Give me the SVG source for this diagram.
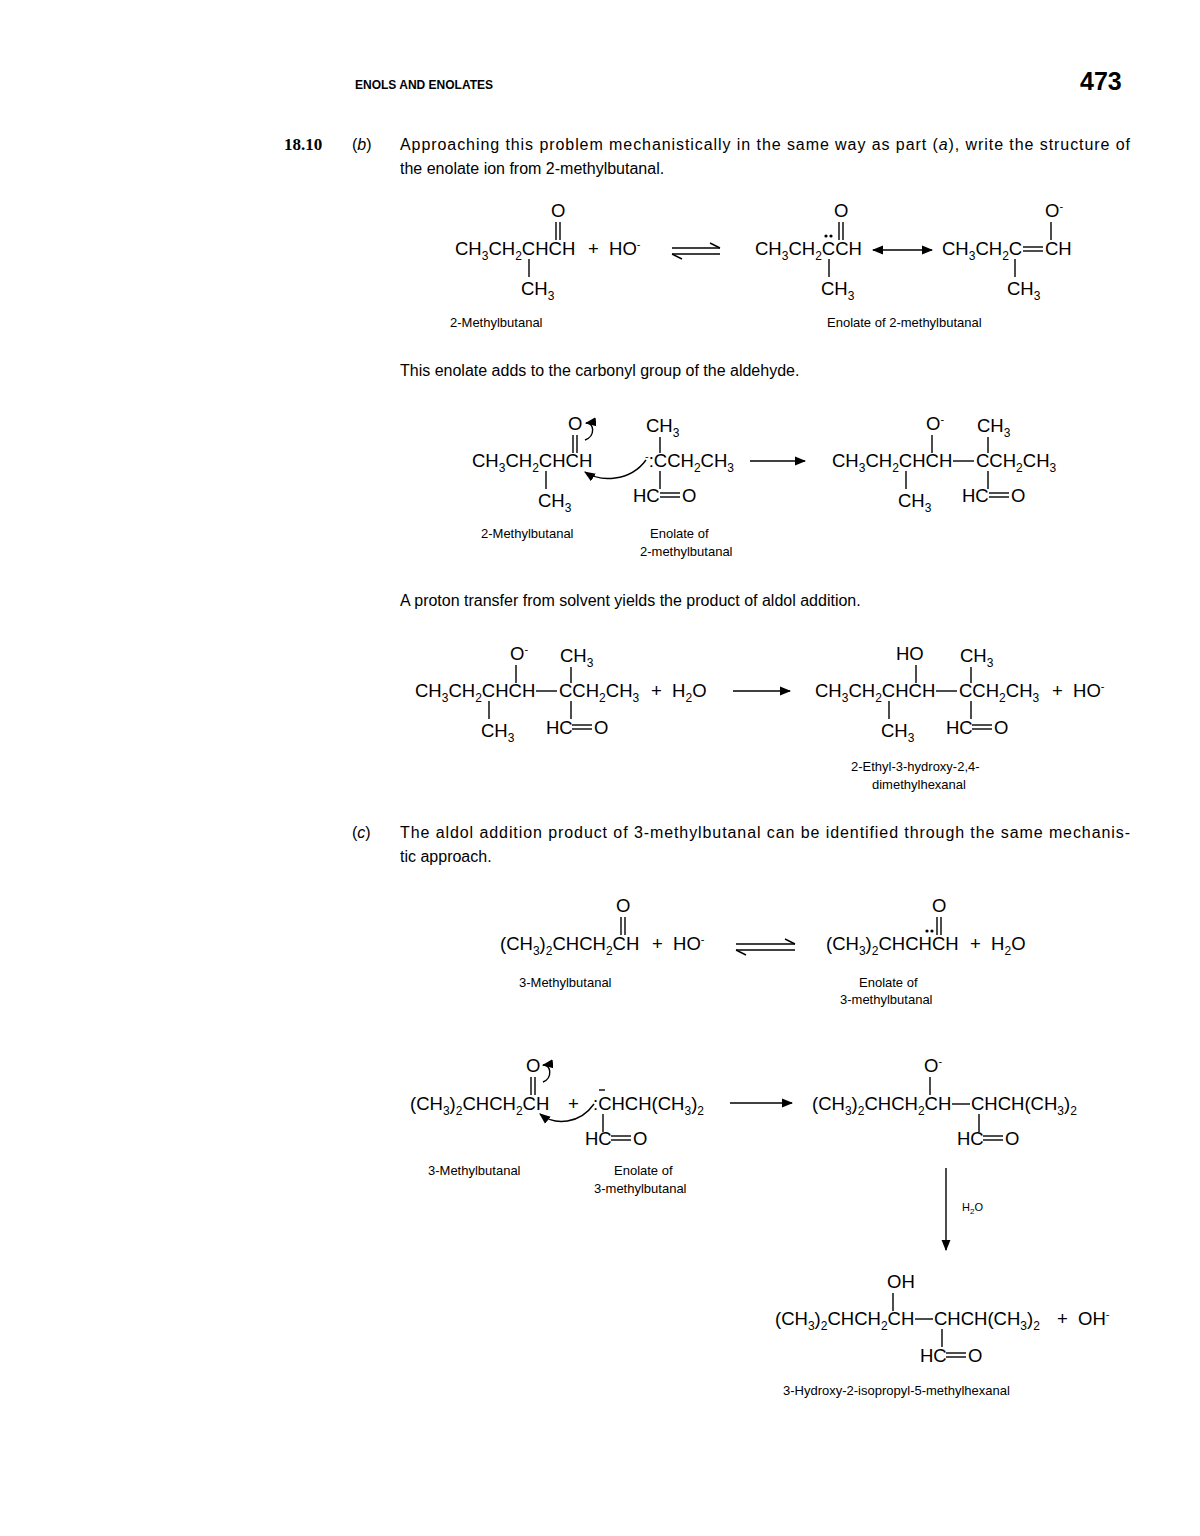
<svg xmlns="http://www.w3.org/2000/svg" width="1200" height="1536" viewBox="0 0 1200 1536">
<style>
text{font-family:"Liberation Sans",Arial,sans-serif;fill:#000}
.m{font-size:18.5px}
.b{font-size:16px}
.l{font-size:13px}
.s{font-size:12px;baseline-shift:-5px}
.p{font-size:11px;baseline-shift:7px}
line,path{stroke:#000;stroke-width:1.4;fill:none}
.hd{fill:#000;stroke:none}
</style>
<defs>
<marker id="ah" viewBox="0 0 10 10" refX="9" refY="5" markerWidth="8" markerHeight="8" orient="auto"><path class="hd" d="M0,1 L10,5 L0,9 Z"/></marker>
<marker id="ahs" viewBox="0 0 10 10" refX="1" refY="5" markerWidth="8" markerHeight="8" orient="auto"><path class="hd" d="M10,1 L0,5 L10,9 Z"/></marker>
</defs>
<rect width="1200" height="1536" fill="#fff"/>
<g id="header">
<text x="355" y="89" style="font-size:12px;font-weight:bold">ENOLS AND ENOLATES</text>
<text x="1080" y="90" style="font-size:25px;font-weight:bold">473</text>
<text x="284" y="150" style="font-family:'Liberation Serif',serif;font-size:17px;font-weight:bold">18.10</text>
<text x="352" y="150" class="b">(<tspan font-style="italic">b</tspan>)</text>
<text x="400" y="150" class="b" textLength="730" lengthAdjust="spacing">Approaching this problem mechanistically in the same way as part (<tspan font-style="italic">a</tspan>), write the structure of</text>
<text x="400" y="174" class="b">the enolate ion from 2-methylbutanal.</text>
<text x="400" y="376" class="b">This enolate adds to the carbonyl group of the aldehyde.</text>
<text x="400" y="606" class="b">A proton transfer from solvent yields the product of aldol addition.</text>
<text x="352" y="838" class="b">(<tspan font-style="italic">c</tspan>)</text>
<text x="400" y="838" class="b" textLength="730" lengthAdjust="spacing">The aldol addition product of 3-methylbutanal can be identified through the same mechanis-</text>
<text x="400" y="862" class="b">tic approach.</text>
</g>

<g id="sec1">
<text x="455" y="255" class="m">CH<tspan class="s">3</tspan>CH<tspan class="s">2</tspan>CHCH</text>
<text x="551" y="217" class="m">O</text>
<line x1="556" y1="222" x2="556" y2="240"/><line x1="560" y1="222" x2="560" y2="240"/>
<line x1="529" y1="259" x2="529" y2="277"/>
<text x="521" y="295" class="m">CH<tspan class="s">3</tspan></text>
<text x="588" y="255" class="m">+&#160;&#160;HO<tspan class="p">-</tspan></text>
<text x="755" y="255" class="m">CH<tspan class="s">3</tspan>CH<tspan class="s">2</tspan>CCH</text>
<circle cx="826" cy="236" r="1.6"/><circle cx="831" cy="236" r="1.6"/>
<text x="834" y="217" class="m">O</text>
<line x1="839" y1="222" x2="839" y2="240"/><line x1="843" y1="222" x2="843" y2="240"/>
<line x1="829" y1="259" x2="829" y2="277"/>
<text x="821" y="295" class="m">CH<tspan class="s">3</tspan></text>
<text x="942" y="255" class="m">CH<tspan class="s">3</tspan>CH<tspan class="s">2</tspan>C</text>
<line x1="1023" y1="247" x2="1043" y2="247"/><line x1="1023" y1="251" x2="1043" y2="251"/>
<text x="1045" y="255" class="m">CH</text>
<text x="1045" y="217" class="m">O<tspan class="p">-</tspan></text>
<line x1="1051" y1="222" x2="1051" y2="240"/>
<line x1="1015" y1="259" x2="1015" y2="277"/>
<text x="1007" y="295" class="m">CH<tspan class="s">3</tspan></text>
<text x="450" y="327" class="l">2-Methylbutanal</text>
<text x="827" y="327" class="l">Enolate of 2-methylbutanal</text>
</g>

<g id="sec2">
<text x="472" y="467" class="m">CH<tspan class="s">3</tspan>CH<tspan class="s">2</tspan>CHCH</text>
<text x="568" y="430" class="m">O</text>
<line x1="573" y1="435" x2="573" y2="453"/><line x1="577" y1="435" x2="577" y2="453"/>
<line x1="546" y1="471" x2="546" y2="489"/>
<text x="538" y="507" class="m">CH<tspan class="s">3</tspan></text>
<text x="645" y="467" class="m"><tspan class="p">-</tspan>:CCH<tspan class="s">2</tspan>CH<tspan class="s">3</tspan></text>
<text x="646" y="432" class="m">CH<tspan class="s">3</tspan></text>
<line x1="660" y1="437" x2="660" y2="453"/>
<line x1="660" y1="471" x2="660" y2="489"/>
<text x="633" y="502" class="m">HC</text>
<line x1="660" y1="493" x2="680" y2="493"/><line x1="660" y1="497" x2="680" y2="497"/>
<text x="682" y="502" class="m">O</text>
<path d="M585,440 C596,436 594,422 586,423" marker-end="url(#ah)"/>
<path d="M646,460 C630,482 600,482 585,472" marker-end="url(#ah)"/>
<line x1="750" y1="461" x2="805" y2="461" marker-end="url(#ah)"/>
<text x="832" y="467" class="m">CH<tspan class="s">3</tspan>CH<tspan class="s">2</tspan>CHCH</text>
<line x1="953" y1="461" x2="974" y2="461"/>
<text x="976" y="467" class="m">CCH<tspan class="s">2</tspan>CH<tspan class="s">3</tspan></text>
<text x="926" y="430" class="m">O<tspan class="p">-</tspan></text>
<line x1="932" y1="435" x2="932" y2="453"/>
<text x="977" y="432" class="m">CH<tspan class="s">3</tspan></text>
<line x1="988" y1="437" x2="988" y2="453"/>
<line x1="906" y1="471" x2="906" y2="489"/>
<text x="898" y="507" class="m">CH<tspan class="s">3</tspan></text>
<line x1="988" y1="471" x2="988" y2="489"/>
<text x="962" y="502" class="m">HC</text>
<line x1="989" y1="493" x2="1009" y2="493"/><line x1="989" y1="497" x2="1009" y2="497"/>
<text x="1011" y="502" class="m">O</text>
<text x="481" y="538" class="l">2-Methylbutanal</text>
<text x="650" y="538" class="l">Enolate of</text>
<text x="640" y="556" class="l">2-methylbutanal</text>
</g>

<g id="sec3">
<text x="415" y="697" class="m">CH<tspan class="s">3</tspan>CH<tspan class="s">2</tspan>CHCH</text>
<line x1="536" y1="691" x2="557" y2="691"/>
<text x="559" y="697" class="m">CCH<tspan class="s">2</tspan>CH<tspan class="s">3</tspan></text>
<text x="510" y="660" class="m">O<tspan class="p">-</tspan></text>
<line x1="516" y1="665" x2="516" y2="683"/>
<text x="560" y="662" class="m">CH<tspan class="s">3</tspan></text>
<line x1="571" y1="667" x2="571" y2="683"/>
<line x1="489" y1="701" x2="489" y2="719"/>
<text x="481" y="737" class="m">CH<tspan class="s">3</tspan></text>
<line x1="571" y1="701" x2="571" y2="719"/>
<text x="546" y="734" class="m">HC</text>
<line x1="572" y1="725" x2="592" y2="725"/><line x1="572" y1="729" x2="592" y2="729"/>
<text x="594" y="734" class="m">O</text>
<text x="651" y="697" class="m">+&#160;&#160;H<tspan class="s">2</tspan>O</text>
<line x1="733" y1="691" x2="790" y2="691" marker-end="url(#ah)"/>
<text x="815" y="697" class="m">CH<tspan class="s">3</tspan>CH<tspan class="s">2</tspan>CHCH</text>
<line x1="936" y1="691" x2="957" y2="691"/>
<text x="959" y="697" class="m">CCH<tspan class="s">2</tspan>CH<tspan class="s">3</tspan></text>
<text x="896" y="660" class="m">HO</text>
<line x1="916" y1="665" x2="916" y2="683"/>
<text x="960" y="662" class="m">CH<tspan class="s">3</tspan></text>
<line x1="971" y1="667" x2="971" y2="683"/>
<line x1="889" y1="701" x2="889" y2="719"/>
<text x="881" y="737" class="m">CH<tspan class="s">3</tspan></text>
<line x1="971" y1="701" x2="971" y2="719"/>
<text x="946" y="734" class="m">HC</text>
<line x1="972" y1="725" x2="992" y2="725"/><line x1="972" y1="729" x2="992" y2="729"/>
<text x="994" y="734" class="m">O</text>
<text x="1052" y="697" class="m">+&#160;&#160;HO<tspan class="p">-</tspan></text>
<text x="851" y="771" class="l">2-Ethyl-3-hydroxy-2,4-</text>
<text x="872" y="789" class="l">dimethylhexanal</text>
</g>

<g id="sec4">
<text x="500" y="950" class="m">(CH<tspan class="s">3</tspan>)<tspan class="s">2</tspan>CHCH<tspan class="s">2</tspan>CH</text>
<text x="616" y="912" class="m">O</text>
<line x1="621" y1="917" x2="621" y2="935"/><line x1="625" y1="917" x2="625" y2="935"/>
<text x="652" y="950" class="m">+&#160;&#160;HO<tspan class="p">-</tspan></text>
<text x="826" y="950" class="m">(CH<tspan class="s">3</tspan>)<tspan class="s">2</tspan>CHCHCH</text>
<circle cx="927" cy="931" r="1.6"/><circle cx="932" cy="931" r="1.6"/>
<text x="932" y="912" class="m">O</text>
<line x1="937" y1="917" x2="937" y2="935"/><line x1="941" y1="917" x2="941" y2="935"/>
<text x="970" y="950" class="m">+&#160;&#160;H<tspan class="s">2</tspan>O</text>
<text x="519" y="987" class="l">3-Methylbutanal</text>
<text x="859" y="987" class="l">Enolate of</text>
<text x="840" y="1004" class="l">3-methylbutanal</text>
</g>

<g id="sec5">
<text x="410" y="1110" class="m">(CH<tspan class="s">3</tspan>)<tspan class="s">2</tspan>CHCH<tspan class="s">2</tspan>CH</text>
<text x="526" y="1072" class="m">O</text>
<line x1="531" y1="1077" x2="531" y2="1095"/><line x1="535" y1="1077" x2="535" y2="1095"/>
<path d="M543,1082 C553,1078 551,1064 543,1065" marker-end="url(#ah)"/>
<text x="568" y="1110" class="m">+</text>
<text x="593" y="1110" class="m">:CHCH(CH<tspan class="s">3</tspan>)<tspan class="s">2</tspan></text>
<line x1="599" y1="1090" x2="605" y2="1090"/>
<line x1="603" y1="1114" x2="603" y2="1132"/>
<text x="585" y="1145" class="m">HC</text>
<line x1="611" y1="1136" x2="631" y2="1136"/><line x1="611" y1="1140" x2="631" y2="1140"/>
<text x="633" y="1145" class="m">O</text>
<path d="M594,1104 C580,1124 555,1126 540,1114" marker-end="url(#ah)"/>
<line x1="730" y1="1103" x2="792" y2="1103" marker-end="url(#ah)"/>
<text x="812" y="1110" class="m">(CH<tspan class="s">3</tspan>)<tspan class="s">2</tspan>CHCH<tspan class="s">2</tspan>CH</text>
<line x1="952" y1="1104" x2="970" y2="1104"/>
<text x="971" y="1110" class="m">CHCH(CH<tspan class="s">3</tspan>)<tspan class="s">2</tspan></text>
<text x="924" y="1072" class="m">O<tspan class="p">-</tspan></text>
<line x1="930" y1="1077" x2="930" y2="1095"/>
<line x1="979" y1="1114" x2="979" y2="1132"/>
<text x="957" y="1145" class="m">HC</text>
<line x1="983" y1="1136" x2="1003" y2="1136"/><line x1="983" y1="1140" x2="1003" y2="1140"/>
<text x="1005" y="1145" class="m">O</text>
<text x="428" y="1175" class="l">3-Methylbutanal</text>
<text x="614" y="1175" class="l">Enolate of</text>
<text x="594" y="1193" class="l">3-methylbutanal</text>
<line x1="946" y1="1168" x2="946" y2="1250" marker-end="url(#ah)"/>
<text x="962" y="1211" style="font-size:11px">H<tspan style="font-size:8px;baseline-shift:-3px">2</tspan>O</text>
</g>

<g id="sec6">
<text x="775" y="1325" class="m">(CH<tspan class="s">3</tspan>)<tspan class="s">2</tspan>CHCH<tspan class="s">2</tspan>CH</text>
<line x1="915" y1="1319" x2="933" y2="1319"/>
<text x="934" y="1325" class="m">CHCH(CH<tspan class="s">3</tspan>)<tspan class="s">2</tspan></text>
<text x="887" y="1288" class="m">OH</text>
<line x1="893" y1="1293" x2="893" y2="1311"/>
<line x1="942" y1="1329" x2="942" y2="1347"/>
<text x="920" y="1362" class="m">HC</text>
<line x1="946" y1="1353" x2="966" y2="1353"/><line x1="946" y1="1357" x2="966" y2="1357"/>
<text x="968" y="1362" class="m">O</text>
<text x="1057" y="1325" class="m">+&#160;&#160;OH<tspan class="p">-</tspan></text>
<text x="783" y="1395" class="l">3-Hydroxy-2-isopropyl-5-methylhexanal</text>
</g>

<g id="connectors">
<line x1="672" y1="248" x2="720" y2="248"/><path d="M720,248 L710,243"/>
<line x1="672" y1="254" x2="720" y2="254"/><path d="M672,254 L682,259"/>
<line x1="873" y1="250" x2="932" y2="250" marker-start="url(#ahs)" marker-end="url(#ah)"/>
<line x1="736" y1="944" x2="795" y2="944"/><path d="M795,944 L785,939"/>
<line x1="736" y1="950" x2="795" y2="950"/><path d="M736,950 L746,955"/>
</g>
</svg>
